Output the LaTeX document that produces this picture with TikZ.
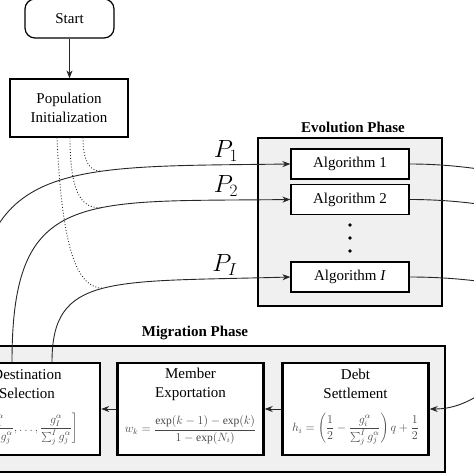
\documentclass[tikz,border=0pt]{standalone}
\usepackage{fontspec}
\setmainfont{Liberation Serif}
\usetikzlibrary{arrows.meta}
\begin{document}
\begin{tikzpicture}[x=1pt,y=-1pt,
  font=\fontsize{15}{19}\selectfont,
  tip/.style={-{Stealth[length=8pt,width=6pt]}},
  plainbox/.style={draw, line width=1.2pt, fill=white, inner sep=0pt},
  algbox/.style={plainbox, minimum width=118pt, minimum height=30pt},
  phasebox/.style={draw, line width=1.8pt, fill=black!6, inner sep=0pt},
  migbox/.style={draw, line width=2.4pt, fill=white, minimum width=146pt, minimum height=92pt, inner sep=0pt},
  flow/.style={line width=0.9pt, black!85},
  formula/.style={text=black!72, font=\fontsize{11.5}{13}\selectfont, inner sep=0pt},
  phaselabel/.style={font=\fontsize{15}{19}\selectfont\bfseries},
  plabel/.style={font=\fontsize{25}{29}\selectfont},
  dotnode/.style={circle, fill=black, inner sep=0pt, minimum size=3.6pt}
]
\useasboundingbox (0,0) rectangle (474,474);
\clip (0,0) rectangle (474,474);

% phase frames
\node[phasebox, minimum width=184pt, minimum height=168pt] (evo) at (350,222) {};
\node[phaselabel] (evolabel) at (353,127) {Evolution Phase};
\node[phasebox, minimum width=505pt, minimum height=126pt] (mig) at (192.5,409) {};
\node[phaselabel] (miglabel) at (195,333) {Migration Phase};

% start and initialization
\node[plainbox, rounded corners=10pt, minimum width=89pt, minimum height=39pt] (start) at (69.5,18.5) {Start};
\node[plainbox, minimum width=118pt, minimum height=58pt, align=center] (pop) at (69,108) {Population\\Initialization};
\draw[flow, tip] (start) -- (start |- pop.north);

% algorithms
\node[algbox] (alg1) at (350,164) {Algorithm 1};
\node[algbox] (alg2) at (350,199.5) {Algorithm 2};
\node[algbox] (algI) at (350,277) {Algorithm \textit{I}};
\node[dotnode] (d1) at (350,225) {};
\node[dotnode] (d2) at (350,238) {};
\node[dotnode] (d3) at (350,251) {};

% migration boxes
\node[migbox] (debt) at (355.5,409) {};
\node[migbox] (member) at (190.5,409) {};
\node[migbox] (dest) at (27,409) {};
\node[align=center] (debtt) at (355.5,384) {Debt\\Settlement};
\node[align=center] (membert) at (190.5,384) {Member\\Exportation};
\node[align=center] (destt) at (27,384) {Destination\\Selection};
\node[formula] (debtf) at (355.5,429) {$\displaystyle h_i=\left(\frac{1}{2}-\frac{g_i^\alpha}{\sum\nolimits_j^I g_j^\alpha}\right)q+\frac{1}{2}$};
\node[formula] (memberf) at (190.5,430) {$\displaystyle w_k=\frac{\exp(k-1)-\exp(k)}{1-\exp(N_i)}$};
\node[formula] (destf) at (27,429) {$\displaystyle \left[\frac{g_1^\alpha}{\sum\nolimits_j^I g_j^\alpha},\ldots,\frac{g_I^\alpha}{\sum\nolimits_j^I g_j^\alpha}\right]$};

\draw[flow, tip] (debt.west) -- (member.east);
\draw[flow, tip] (member.west) -- (dest.east);

% population paths
\draw[flow, tip] ([xshift=-55pt]dest.north) .. controls +(0,-203) and +(-241,3) .. (alg1.west) coordinate[pos=0.67] (j1);
\draw[flow, tip] ([xshift=-15pt]dest.north) .. controls +(0,-173) and +(-211,2.5) .. (alg2.west) coordinate[pos=0.6] (j2);
\draw[flow, tip] ([xshift=25pt]dest.north) .. controls +(0,-88) and +(-181,5) .. (algI.west) coordinate[pos=0.5] (jI);

\node[plabel] (p1) at (226,151) {$P_1$};
\node[plabel] (p2) at (226,186) {$P_2$};
\node[plabel] (pI) at (225,265) {$P_I$};

% dotted initial links
\draw[flow, dotted] ([xshift=14pt]pop.south) .. controls +(0,28) and +(-10,0) .. (j1);
\draw[flow, dotted] ([xshift=1pt]pop.south) .. controls +(0,63) and +(-16,0) .. (j2);
\draw[flow, dotted] ([xshift=-12pt]pop.south) .. controls +(5,113) and +(-26,0) .. (jI);

% outputs to the right (leaving the picture)
\coordinate (o1) at (505,173);
\coordinate (o2) at (505,208);
\coordinate (oI) at (505,285);
\coordinate (back) at (492,386);
\draw[flow] (alg1.east) .. controls +(40,0) and +(-25,-4) .. (o1);
\draw[flow] (alg2.east) .. controls +(40,0) and +(-25,-4) .. (o2);
\draw[flow] (algI.east) .. controls +(40,0) and +(-25,-4) .. (oI);
\draw[flow, tip] (back) .. controls +(-20,15) and +(25,0) .. (debt.east);
\end{tikzpicture}
\end{document}
